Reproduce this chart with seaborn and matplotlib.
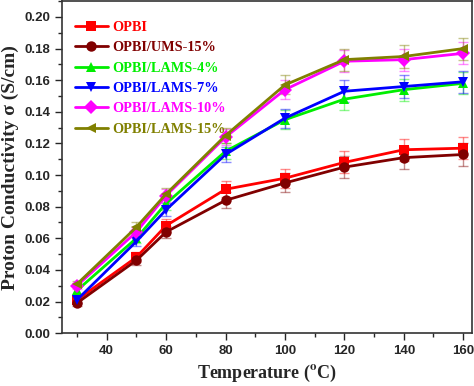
import numpy as np
import pandas as pd
import matplotlib
matplotlib.use("Agg")
import matplotlib.pyplot as plt
import seaborn as sns
from matplotlib.ticker import MultipleLocator

temps = [30, 50, 60, 80, 100, 120, 140, 160]
series_names = ["OPBI", "OPBI/UMS-15%", "OPBI/LAMS-4%", "OPBI/LAMS-7%", "OPBI/LAMS-10%", "OPBI/LAMS-15%"]
opbi = [0.021, 0.048, 0.068, 0.091, 0.098, 0.108, 0.116, 0.117]
ums15 = [0.019, 0.046, 0.064, 0.084, 0.095, 0.105, 0.111, 0.113]
lams4 = [0.027, 0.060, 0.082, 0.115, 0.135, 0.148, 0.154, 0.158]
lams7 = [0.021, 0.058, 0.078, 0.113, 0.136, 0.153, 0.156, 0.159]
lams10 = [0.030, 0.064, 0.087, 0.124, 0.154, 0.172, 0.173, 0.177]
lams15 = [0.031, 0.067, 0.088, 0.125, 0.157, 0.173, 0.175, 0.180]
errors = [0.002, 0.003, 0.004, 0.005, 0.006, 0.007, 0.007, 0.007]

values = [opbi, ums15, lams4, lams7, lams10, lams15]
colors = ["#ff0000", "#800000", "#00ee00", "#0000ff", "#ff00ff", "#808000"]
markers = ["s", "o", "^", "v", "D", "<"]

rows = []
for name, vals in zip(series_names, values):
    for t, v in zip(temps, vals):
        rows.append({"T": t, "sigma": v, "series": name})
df = pd.DataFrame(rows)

sns.set_style("ticks")
plt.rcParams["mathtext.fontset"] = "stix"
fig = plt.figure(figsize=(4.74, 3.86), dpi=100)
ax = fig.add_axes([0.131, 0.137, 0.865, 0.86])

for name, vals, c in zip(series_names, values, colors):
    ax.errorbar(temps, vals, yerr=errors, fmt="none", ecolor=c, alpha=0.45,
                elinewidth=1, capsize=3.5, capthick=1, zorder=1)

sns.lineplot(data=df, x="T", y="sigma", hue="series", style="series",
             hue_order=series_names, style_order=series_names,
             palette=colors, markers=markers, dashes=False, markersize=7.5,
             markeredgewidth=0, linewidth=2, ax=ax, zorder=2)

ax.set_xlim(25, 163)
ax.set_ylim(0, 0.21)
ax.xaxis.set_minor_locator(MultipleLocator(10))
ax.yaxis.set_minor_locator(MultipleLocator(0.01))
yt = np.arange(0, 0.201, 0.02)
ax.set_yticks(yt)
ax.set_yticklabels([f"{v:.2f}" for v in yt], fontfamily="Liberation Sans", fontweight="bold")
xt = list(range(40, 161, 20))
ax.set_xticks(xt)
ax.set_xticklabels([str(v) for v in xt], fontfamily="Liberation Sans", fontweight="bold")
ax.tick_params(which="major", direction="out", length=5, width=1, labelsize=9.5)
ax.tick_params(which="minor", direction="out", length=3, width=1)
for s in ax.spines.values():
    s.set_linewidth(1.2)
    s.set_color("#333333")

ax.set_xlabel("Temperature ($\\mathbf{^{o}}$C)", fontfamily="Liberation Serif", fontweight="bold", fontsize=13)
ax.set_ylabel("Proton Conductivity σ (S/cm)", fontfamily="Liberation Serif", fontweight="bold", fontsize=14)

leg = ax.legend(loc="upper left", frameon=False, bbox_to_anchor=(0.0, 0.98),
                prop={"family": "Liberation Serif", "weight": "bold", "size": 10.3},
                handlelength=2.3, handletextpad=0.3, labelspacing=0.52)
for txt, c in zip(leg.get_texts(), colors):
    txt.set_color(c)

fig.savefig("out.png", dpi=100)
